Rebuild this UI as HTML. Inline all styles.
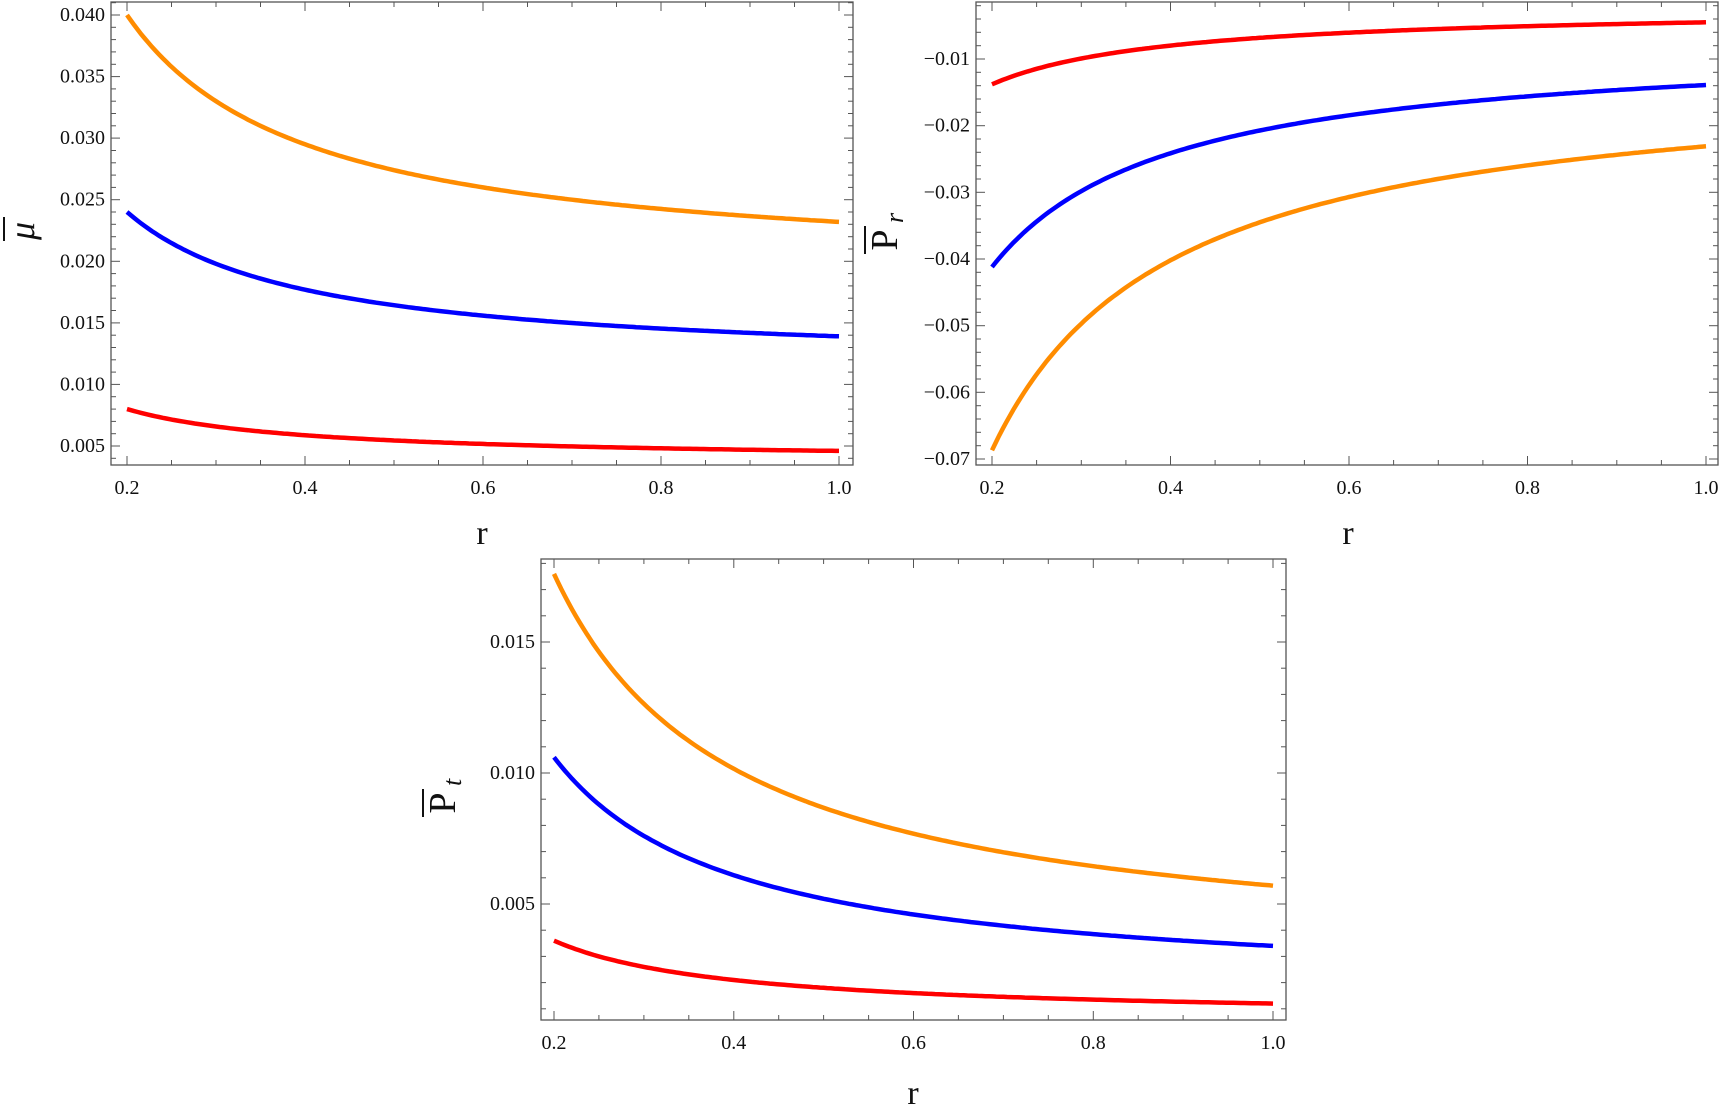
<!DOCTYPE html>
<html><head><meta charset="utf-8"><style>
html,body{margin:0;padding:0;background:#fff;width:1720px;height:1104px;overflow:hidden}
svg{position:absolute;left:0;top:0}
text{font-family:"Liberation Serif",serif;fill:#111}
</style></head><body>
<svg id="s" width="1720" height="1104" xmlns="http://www.w3.org/2000/svg"></svg>
<script>
const S=document.getElementById('s');let h='';
function panel(p){
 const {L,R,T,B,x0,x1,X0,X1,y0v,y0p,y1v,y1p,ymaj,ymin,fmt}=p;
 const sx=v=>X0+(v-x0)/(x1-x0)*(X1-X0);
 const ky=(y1p-y0p)/(y1v-y0v);const sy=v=>y0p+(v-y0v)*ky;
 const vy=py=>y0v+(py-y0p)/ky;
 h+=`<rect x="${L}" y="${T}" width="${R-L}" height="${B-T}" fill="none" stroke="#555" stroke-width="1.3"/>`;
 for(let i=0;i<=16;i++){const v=0.2+i*0.05,x=sx(v).toFixed(1);const maj=i%4==0;const l=maj?9:5;
  h+=`<line x1="${x}" y1="${B}" x2="${x}" y2="${B-l}" stroke="#555"/><line x1="${x}" y1="${T}" x2="${x}" y2="${T+l}" stroke="#555"/>`;
  if(maj)h+=`<text x="${x}" y="${B+29}" font-size="20" text-anchor="middle">${v.toFixed(1)}</text>`;}
 const vlo=Math.min(vy(B),vy(T)),vhi=Math.max(vy(B),vy(T));
 const n0=Math.ceil(vlo/ymin-1e-6),n1=Math.floor(vhi/ymin+1e-6);
 for(let n=n0;n<=n1;n++){const v=n*ymin,y=sy(v).toFixed(1);const r=Math.round(v/ymaj*1e6)/1e6;const maj=Math.abs(r-Math.round(r))<1e-4;const l=maj?9:5;
  h+=`<line x1="${L}" y1="${y}" x2="${L+l}" y2="${y}" stroke="#555"/><line x1="${R}" y1="${y}" x2="${R-l}" y2="${y}" stroke="#555"/>`;
  if(maj)h+=`<text x="${L-6}" y="${(+y+6).toFixed(1)}" font-size="20" text-anchor="end">${fmt(v)}</text>`;}
 const cols=['#ff8c00','#0000ff','#ff0000'];
 p.curves.forEach((c,i)=>{let d='';for(let k=0;k<=200;k++){const r=0.2+k*0.004;const v=c[0]+c[1]/r;d+=(k?'L':'M')+sx(r).toFixed(1)+','+sy(v).toFixed(1);}
  h+=`<path d="${d}" fill="none" stroke="${cols[i]}" stroke-width="4.5"/>`;});
}
panel({L:111,R:853,T:2,B:465,x0:0.2,x1:1,X0:127,X1:839,y0v:0.040,y0p:15,y1v:0.005,y1p:446,ymaj:0.005,ymin:0.001,
 fmt:v=>v.toFixed(3),curves:[[0.019,0.0042],[0.01138,0.002525],[0.00375,0.00085]]});
panel({L:976,R:1718,T:2,B:465,x0:0.2,x1:1,X0:992,X1:1706,y0v:-0.01,y0p:59,y1v:-0.07,y1p:459,ymaj:0.01,ymin:0.002,
 fmt:v=>'\u2212'+Math.abs(v).toFixed(2),curves:[[-0.0117,-0.0114],[-0.007075,-0.006825],[-0.002175,-0.002325]]});
panel({L:541,R:1286,T:559,B:1020,x0:0.2,x1:1,X0:554,X1:1273,y0v:0.015,y0p:642,y1v:0.005,y1p:904,ymaj:0.005,ymin:0.001,
 fmt:v=>v.toFixed(3),curves:[[0.002725,0.002975],[0.0016,0.0018],[0.0006,0.0006]]});
h+=`<text x="482" y="544" font-size="34" text-anchor="middle">r</text>`;
h+=`<text x="1348" y="544" font-size="34" text-anchor="middle">r</text>`;
h+=`<text x="913" y="1104" font-size="34" text-anchor="middle">r</text>`;
h+=`<g transform="translate(34,231) rotate(-90)"><text x="0" y="0" font-size="36" font-style="italic" text-anchor="middle">μ</text><line x1="-10" y1="-30" x2="14" y2="-30" stroke="#111" stroke-width="2"/></g>`;
h+=`<g transform="translate(897,232) rotate(-90)"><text x="-8" y="0" font-size="38" text-anchor="middle">P</text><text x="9" y="6" font-size="26" font-style="italic">r</text><line x1="-22" y1="-32" x2="6" y2="-32" stroke="#111" stroke-width="2"/></g>`;
h+=`<g transform="translate(455,795) rotate(-90)"><text x="-8" y="0" font-size="38" text-anchor="middle">P</text><text x="9" y="6" font-size="26" font-style="italic">t</text><line x1="-22" y1="-32" x2="6" y2="-32" stroke="#111" stroke-width="2"/></g>`;
S.innerHTML=h;
</script>
</body></html>
